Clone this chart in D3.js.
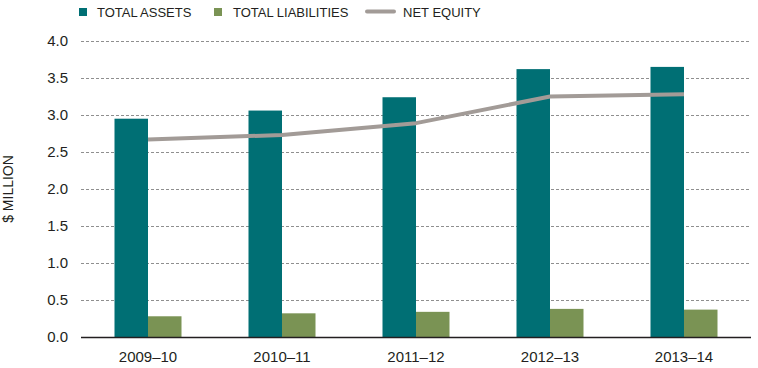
<!DOCTYPE html>
<html><head><meta charset="utf-8">
<script src="https://cdn.jsdelivr.net/npm/d3@7"></script>
<style>body{margin:0;background:#fff}svg{display:block}text{font-family:"Liberation Sans",Arial,sans-serif;fill:#231f20}</style>
</head><body>
<script>
const categories = ["2009–10","2010–11","2011–12","2012–13","2013–14"];
const totalAssets = [2.95, 3.06, 3.24, 3.62, 3.65];
const totalLiabilities = [0.28, 0.32, 0.34, 0.38, 0.37];
const netEquity = [2.67, 2.73, 2.89, 3.25, 3.28];
const yTicks = [0,0.5,1,1.5,2,2.5,3,3.5,4];
const legendLabels = ["TOTAL ASSETS","TOTAL LIABILITIES","NET EQUITY"];

const W=758,H=368;
const m={left:81,right:7,top:41,bottom:31};
const svg=d3.select("body").append("svg").attr("width",W).attr("height",H);
const x=d3.scaleBand().domain(categories).range([m.left,W-m.right]).padding(0);
const y=d3.scaleLinear().domain([0,4]).range([H-m.bottom,m.top]);
const bw=x.bandwidth()*0.25;

// gridlines
svg.append("g").selectAll("line").data(yTicks.filter(d=>d>0)).join("line")
  .attr("x1",m.left).attr("x2",W-m.right)
  .attr("y1",d=>Math.round(y(d))+0.5).attr("y2",d=>Math.round(y(d))+0.5)
  .attr("stroke","#8f8f8f").attr("stroke-width",1).attr("stroke-dasharray","3,2");

// y tick labels
const yAxis=d3.axisLeft(y).tickValues(yTicks).tickFormat(d3.format(".1f")).tickSize(0).tickPadding(13);
const gy=svg.append("g").attr("transform",`translate(${m.left},0)`).call(yAxis);
gy.select(".domain").remove();
gy.selectAll("text").style("font-size","15px").attr("fill","#231f20").style("font-family","'Liberation Sans',Arial,sans-serif");

// bars
const g=svg.append("g");
g.selectAll("rect.a").data(categories).join("rect").attr("class","a")
  .attr("x",d=>x(d)+x.bandwidth()/2-bw).attr("width",bw)
  .attr("y",(d,i)=>y(totalAssets[i])).attr("height",(d,i)=>y(0)-y(totalAssets[i]))
  .attr("fill","#006f74");
g.selectAll("rect.l").data(categories).join("rect").attr("class","l")
  .attr("x",d=>x(d)+x.bandwidth()/2).attr("width",bw)
  .attr("y",(d,i)=>y(totalLiabilities[i])).attr("height",(d,i)=>y(0)-y(totalLiabilities[i]))
  .attr("fill","#7a9354");

// baseline
svg.append("line").attr("x1",m.left).attr("x2",W-m.right)
  .attr("y1",y(0)+0.5).attr("y2",y(0)+0.5).attr("stroke","#231f20").attr("stroke-width",1.5);

// x axis labels
const xAxis=d3.axisBottom(x).tickSize(0).tickPadding(14);
const gx=svg.append("g").attr("transform",`translate(0,${y(0)})`).call(xAxis);
gx.select(".domain").remove();
gx.selectAll("text").style("font-size","15px").attr("fill","#231f20").style("font-family","'Liberation Sans',Arial,sans-serif");

// net equity line
const line=d3.line().x((d,i)=>x(categories[i])+x.bandwidth()/2).y(d=>y(d));
svg.append("path").datum(netEquity).attr("d",line).attr("fill","none")
  .attr("stroke","#a29b97").attr("stroke-width",4).attr("stroke-linejoin","round");

// y title
svg.append("text").attr("transform",`translate(13,${(y(0)+y(4))/2}) rotate(-90)`)
  .attr("text-anchor","middle").style("font-size","14px").text("$ MILLION");

// legend
const lg=svg.append("g");
lg.append("rect").attr("x",79).attr("y",8).attr("width",8).attr("height",8).attr("fill","#006f74");
lg.append("text").attr("x",97).attr("y",17).style("font-size","13px").text(legendLabels[0]);
lg.append("rect").attr("x",214).attr("y",8).attr("width",8).attr("height",8).attr("fill","#7a9354");
lg.append("text").attr("x",233).attr("y",17).style("font-size","13px").text(legendLabels[1]);
lg.append("line").attr("x1",367).attr("x2",394).attr("y1",11.5).attr("y2",11.5).attr("stroke","#a29b97").attr("stroke-width",4).attr("stroke-linecap","round");
lg.append("text").attr("x",403).attr("y",17).style("font-size","13px").text(legendLabels[2]);
</script>
</body></html>
